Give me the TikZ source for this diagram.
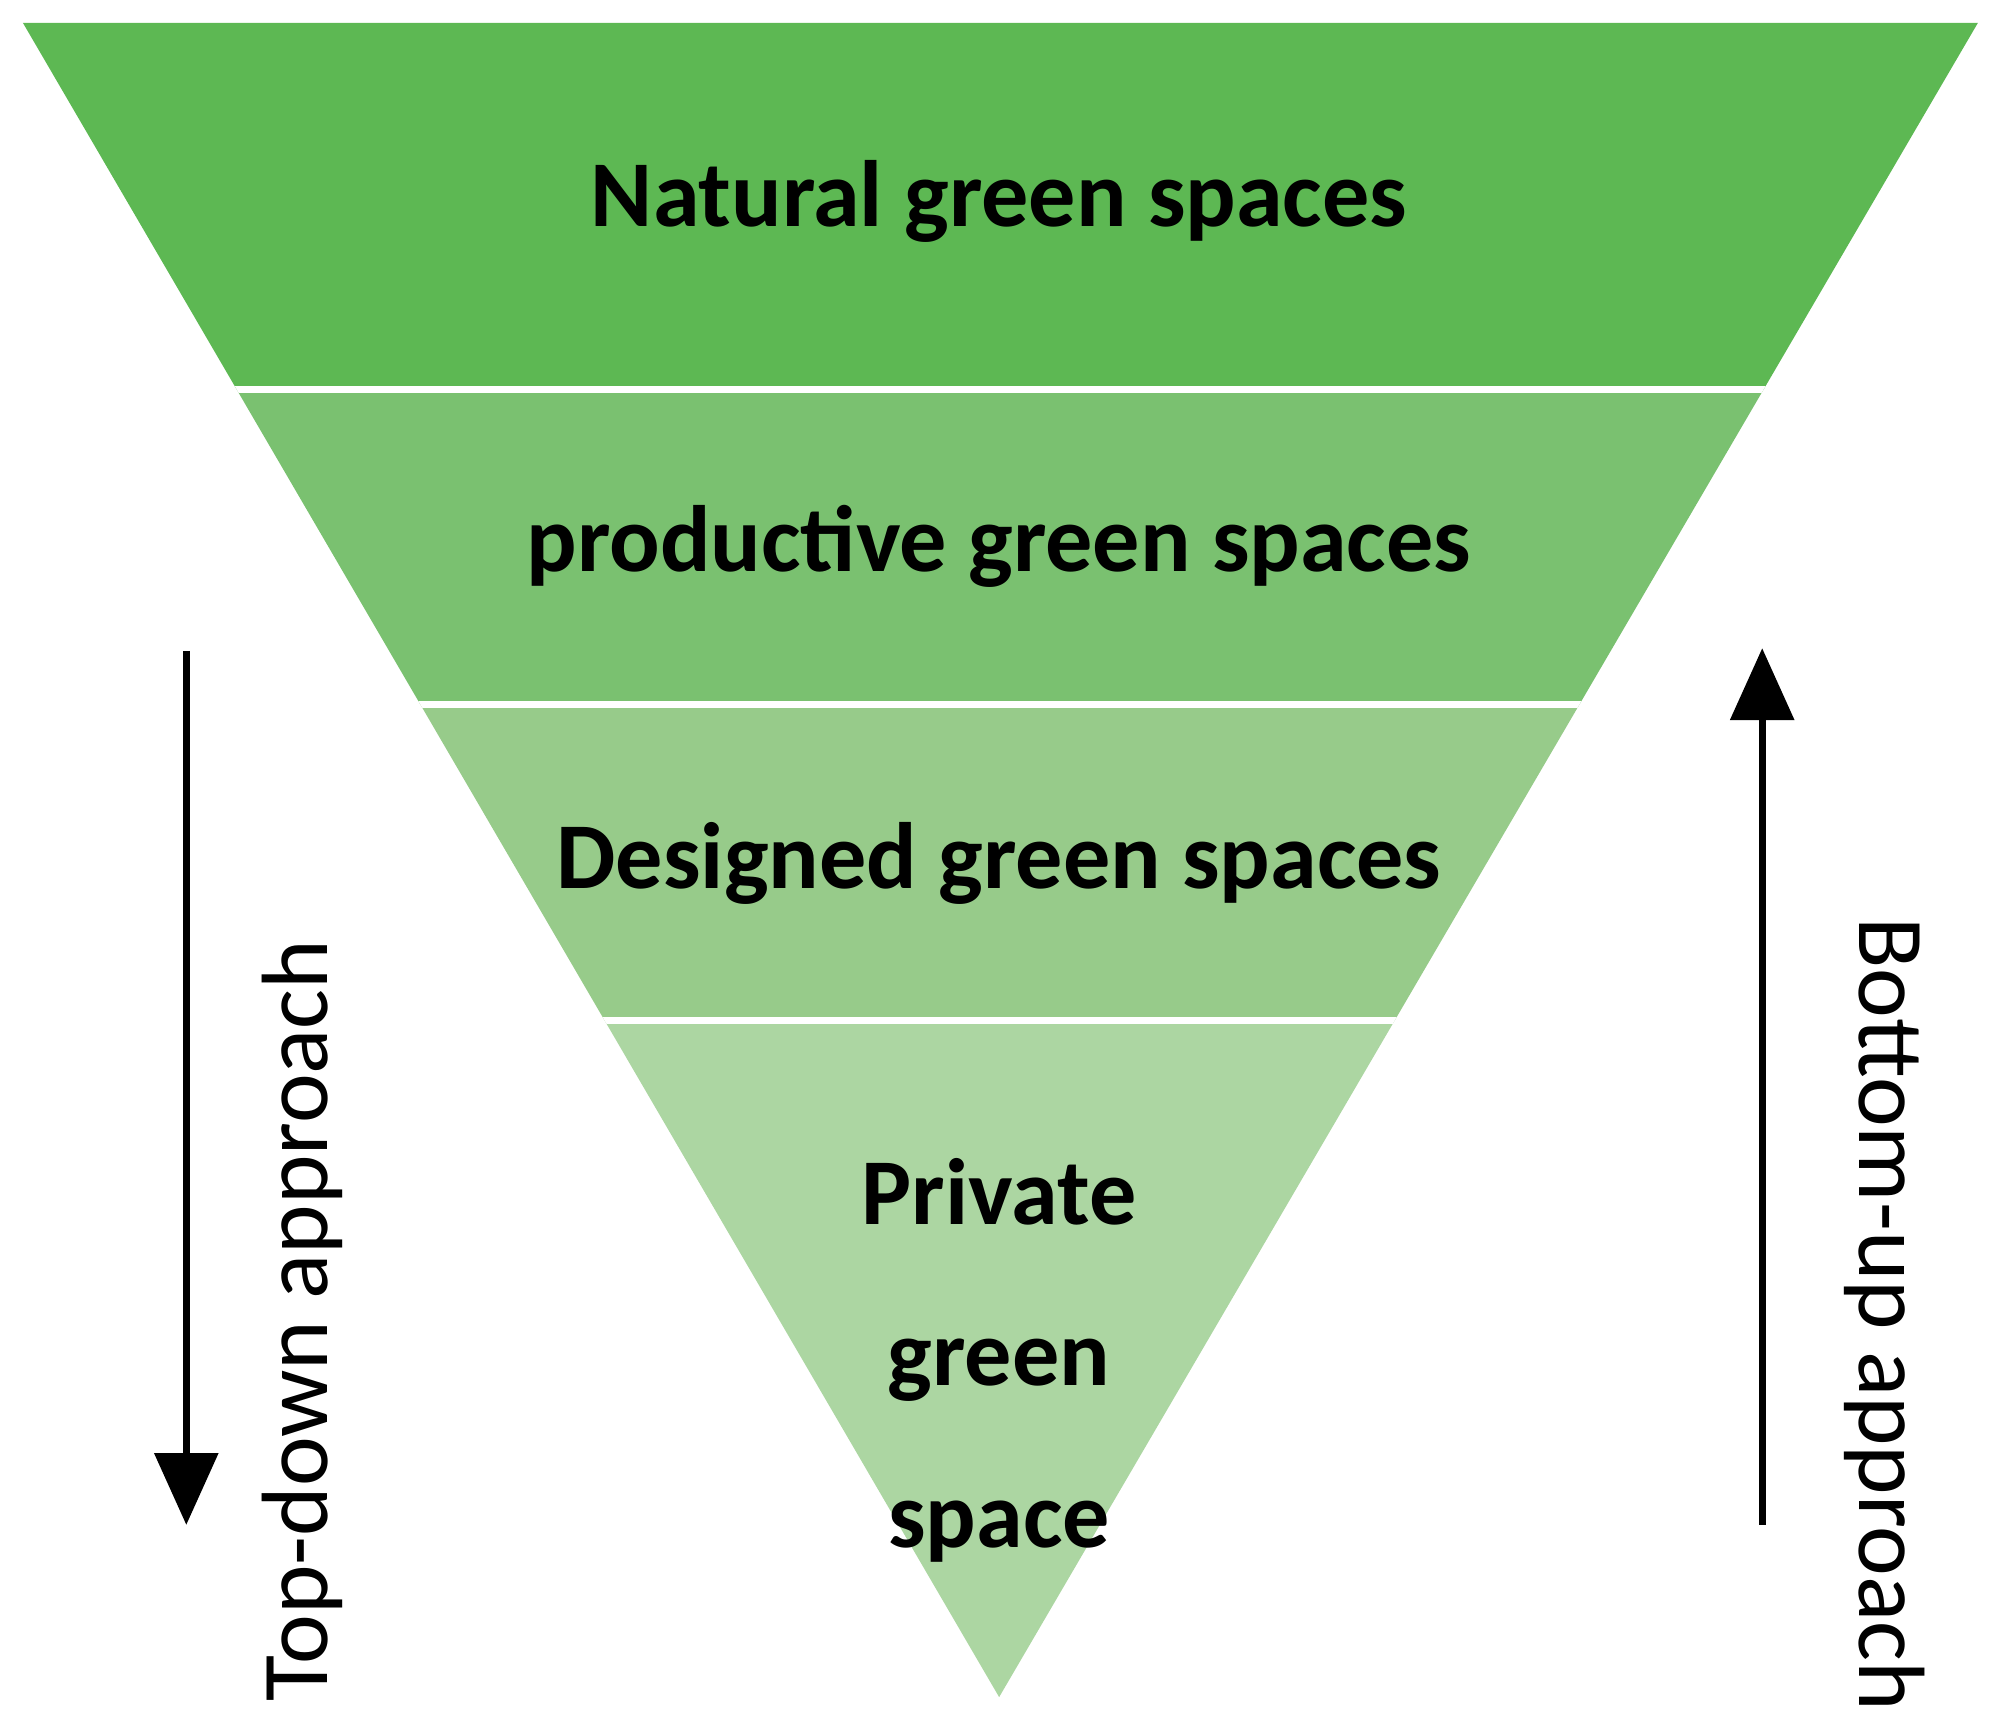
\documentclass[tikz,border=0pt]{standalone}
\usepackage{fontspec}
\setmainfont{Carlito}
\usetikzlibrary{arrows.meta}
\definecolor{g1}{HTML}{5DB853}
\definecolor{g2}{HTML}{7AC170}
\definecolor{g3}{HTML}{97CB8A}
\definecolor{g4}{HTML}{ACD6A2}
\tikzset{lbl/.style={font=\bfseries\fontsize{21}{26}\selectfont},
side/.style={font=\fontsize{21}{26}\selectfont},
arr/.style={line width=1.5pt,-{Triangle[length=16pt,width=14pt]}}}
\begin{document}
\begin{tikzpicture}[x=0.01cm,y=-0.01cm]
\useasboundingbox (0,0) rectangle (1565,1352);
\begin{scope}
\clip (18,18) -- (1550,18) -- (783,1330) -- cycle;
\fill[g1] (0,0) rectangle (1565,305);
\fill[g2] (0,305) rectangle (1565,552);
\fill[g3] (0,552) rectangle (1565,800);
\fill[g4] (0,800) rectangle (1565,1352);
\draw[white,line width=1.6pt] (0,305) -- (1565,305) (0,552) -- (1565,552) (0,800) -- (1565,800);
\end{scope}
\node[lbl] (n1) at (783,158) {Natural green spaces};
\node[lbl] (n2) at (783,428) {productive green spaces};
\node[lbl] (n3) at (783,677) {Designed green spaces};
\node[lbl,align=center,font=\bfseries\fontsize{21}{36}\selectfont] (n4) at (783,1066) {Private\\green\\space};
\coordinate (la) at (146,510); \coordinate (lb) at (146,1195);
\coordinate (ra) at (1381,1195); \coordinate (rb) at (1381,508);
\draw[arr] (la) -- (lb);
\draw[arr] (ra) -- (rb);
\node[side,rotate=90] (tl) at (237,1035) {Top-down approach};
\node[side,rotate=-90] (bl) at (1477,1030) {Bottom-up approach};
\end{tikzpicture}
\end{document}
